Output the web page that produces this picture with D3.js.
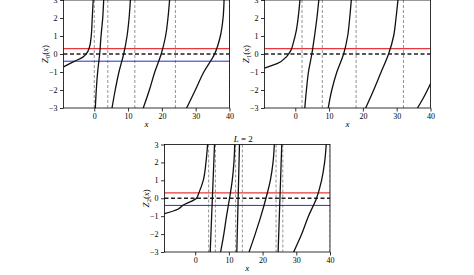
<!DOCTYPE html>
<html>
<head>
<meta charset="utf-8">
<script src="https://cdn.jsdelivr.net/npm/d3@7"></script>
<style>
  body { margin: 0; background: #fff; }
  text { font-family: "Liberation Serif", "DejaVu Serif", serif; fill: #000; }
</style>
</head>
<body>
<svg id="chart" width="474" height="275"></svg>
<script>
// tick values shared by all three panels
var xTicks = [0, 10, 20, 30, 40];
var yTicks = [-3, -2, -1, 0, 1, 2, 3];
var xRange = [-9.1, 40];
var yRange = [-3, 3];

// reference levels
var redLevel = 0.3;
var blueLevel = -0.4;

// pole positions (dashed verticals)
var polesZ0 = [0, 4, 12, 24, 40];
var polesZ1 = [2, 8, 18, 32];
var polesZ2 = [4, 6, 12, 14, 24, 26, 40];

// branches, [x, Z]
var branchesZ0 = [
  [[-9.1, -0.72], [-5.9, -0.41], [-3.6, -0.2], [-2.4, 0], [-1.4, 0.39], [-0.9, 1.0], [-0.6, 2.0], [-0.3, 3.05]],
  [[0.3, -3.05], [0.6, -2], [1.0, -1], [1.6, 0], [2.0, 1], [2.5, 2], [2.8, 3.05]],
  [[5.2, -3.05], [6.2, -2], [7.3, -1], [8.7, 0], [9.7, 1], [10.3, 2], [10.7, 3.05]],
  [[14.4, -3.05], [16.3, -2], [17.9, -1], [19.8, 0], [21.1, 1], [21.8, 2], [22.3, 3.05]],
  [[27.2, -3.05], [29.9, -2], [32.4, -1], [35.6, 0], [37.3, 1], [38.1, 2], [38.4, 3.05]]
];
var branchesZ1 = [
  [[-9.1, -0.78], [-5.4, -0.54], [-2.5, -0.13], [-1.3, 0.2], [-0.5, 0.67], [0.3, 1.3], [1.0, 2.25], [1.4, 3.05]],
  [[2.8, -3.05], [3.3, -2], [3.9, -1], [4.9, 0], [5.7, 1], [6.4, 2], [7.0, 3.05]],
  [[9.7, -3.05], [10.8, -2], [12.3, -1], [14.3, 0], [15.5, 1], [16.1, 2], [16.6, 3.05]],
  [[20.7, -3.05], [23.2, -2], [25.4, -1], [27.6, 0], [29.1, 1], [29.8, 2], [30.4, 3.05]],
  [[36.0, -3.05], [38.0, -2.4], [40, -1.65]]
];
var branchesZ2 = [
  [[-9.1, -0.86], [-5, -0.6], [-3.8, -0.41], [0.4, 0], [1.1, 0.3], [2.4, 1], [3.2, 2], [3.7, 3.05]],
  [[4.45, -3.05], [5.1, 0], [5.75, 3.05]],
  [[7.5, -3.05], [8.5, -2], [9.3, -1], [10.2, 0], [11.0, 1], [11.5, 2], [11.75, 3.05]],
  [[12.35, -3.05], [12.75, 0], [13.15, 3.05]],
  [[15.9, -3.05], [17.8, -2], [19.5, -1], [21.0, 0], [22.3, 1], [23.1, 2], [23.5, 3.05]],
  [[24.6, -3.05], [25.15, 0], [25.7, 3.05]],
  [[29.1, -3.05], [31.6, -2], [33.6, -1], [36.0, 0], [37.5, 1], [38.4, 2], [38.9, 3.05]]
];

var svg = d3.select('#chart');

var panels = [
  { id: 'p0', left: 63.5, right: 229.5, top: 0, bottom: 108, sub: '0', poles: polesZ0, branches: branchesZ0, blue: true, title: null },
  { id: 'p1', left: 264.5, right: 430.5, top: 0, bottom: 108, sub: '1', poles: polesZ1, branches: branchesZ1, blue: false, title: null },
  { id: 'p2', left: 164.5, right: 330, top: 144.5, bottom: 252, sub: '2', poles: polesZ2, branches: branchesZ2, blue: true, title: '2' }
];

function drawPanel(p) {
  var x = d3.scaleLinear().domain(xRange).range([p.left, p.right]);
  var y = d3.scaleLinear().domain(yRange).range([p.bottom, p.top]);
  var g = svg.append('g');

  g.append('clipPath').attr('id', 'clip-' + p.id)
    .append('rect')
    .attr('x', p.left).attr('y', p.top)
    .attr('width', p.right - p.left).attr('height', p.bottom - p.top);

  var plot = g.append('g').attr('clip-path', 'url(#clip-' + p.id + ')');

  // poles
  plot.selectAll('line.pole').data(p.poles).enter().append('line')
    .attr('class', 'pole')
    .attr('x1', function(d) { return x(d); }).attr('x2', function(d) { return x(d); })
    .attr('y1', p.top).attr('y2', p.bottom)
    .attr('stroke', '#777').attr('stroke-width', 0.8)
    .attr('stroke-dasharray', '3,2');

  // horizontal levels
  var levels = [{ v: redLevel, c: '#e8383d', w: 1.3 }];
  if (p.blue) levels.push({ v: blueLevel, c: '#2b2bd6', w: 1.0 });
  plot.selectAll('line.level').data(levels).enter().append('line')
    .attr('class', 'level')
    .attr('x1', p.left).attr('x2', p.right)
    .attr('y1', function(d) { return y(d.v); }).attr('y2', function(d) { return y(d.v); })
    .attr('stroke', function(d) { return d.c; })
    .attr('stroke-width', function(d) { return d.w; });

  plot.append('line')
    .attr('x1', p.left).attr('x2', p.right)
    .attr('y1', y(0)).attr('y2', y(0))
    .attr('stroke', '#222').attr('stroke-width', 1.4)
    .attr('stroke-dasharray', '4,2.5');

  // branches: monotone in Z, so interpolate x along Z for smooth near-vertical parts
  var line = d3.line()
    .x(function(d) { return x(d[0]); })
    .y(function(d) { return y(d[1]); })
    .curve(d3.curveMonotoneY);
  plot.selectAll('path.branch').data(p.branches).enter().append('path')
    .attr('class', 'branch')
    .attr('d', line)
    .attr('fill', 'none')
    .attr('stroke', '#111').attr('stroke-width', 1.3);

  // axes
  var fmt = function(d) { return String(d).replace('-', '\u2212'); };
  var xAxis = d3.axisBottom(x).tickValues(xTicks).tickSize(3.5).tickPadding(2).tickFormat(fmt);
  var yAxis = d3.axisLeft(y).tickValues(yTicks).tickSize(3.5).tickPadding(2.5).tickFormat(fmt);

  var gx = g.append('g').attr('transform', 'translate(0,' + p.bottom + ')').call(xAxis);
  var gy = g.append('g').attr('transform', 'translate(' + p.left + ',0)').call(yAxis);
  [gx, gy].forEach(function(a) {
    a.select('.domain').remove();
    a.selectAll('line').attr('stroke', '#000').attr('stroke-width', 0.8);
    a.selectAll('text').style('font-family', '"Liberation Serif", "DejaVu Serif", serif')
      .style('font-size', '8px').attr('fill', '#000').style('fill', '#000');
  });

  // frame
  g.append('rect')
    .attr('x', p.left).attr('y', p.top)
    .attr('width', p.right - p.left).attr('height', p.bottom - p.top)
    .attr('fill', 'none').attr('stroke', '#000').attr('stroke-width', 0.8);

  // labels
  g.append('text')
    .attr('x', (p.left + p.right) / 2).attr('y', p.bottom + 19)
    .attr('text-anchor', 'middle').style('font-size', '9px').style('font-style', 'italic')
    .text('x');

  var yl = g.append('text')
    .attr('transform', 'translate(' + (p.left - 16) + ',' + ((p.top + p.bottom) / 2) + ') rotate(-90)')
    .attr('text-anchor', 'middle').style('font-size', '9px');
  yl.append('tspan').style('font-style', 'italic').text('Z');
  yl.append('tspan').attr('dy', 2).style('font-size', '6.5px').text(p.sub);
  yl.append('tspan').attr('dy', -2).text('(');
  yl.append('tspan').style('font-style', 'italic').text('x');
  yl.append('tspan').text(')');

  if (p.title) {
    var t = g.append('text')
      .attr('x', (p.left + p.right) / 2 - 4).attr('y', p.top - 3)
      .attr('text-anchor', 'middle').style('font-size', '9px');
    t.append('tspan').style('font-style', 'italic').text('L');
    t.append('tspan').text(' = ' + p.title);
  }
}

panels.forEach(drawPanel);
</script>
</body>
</html>
